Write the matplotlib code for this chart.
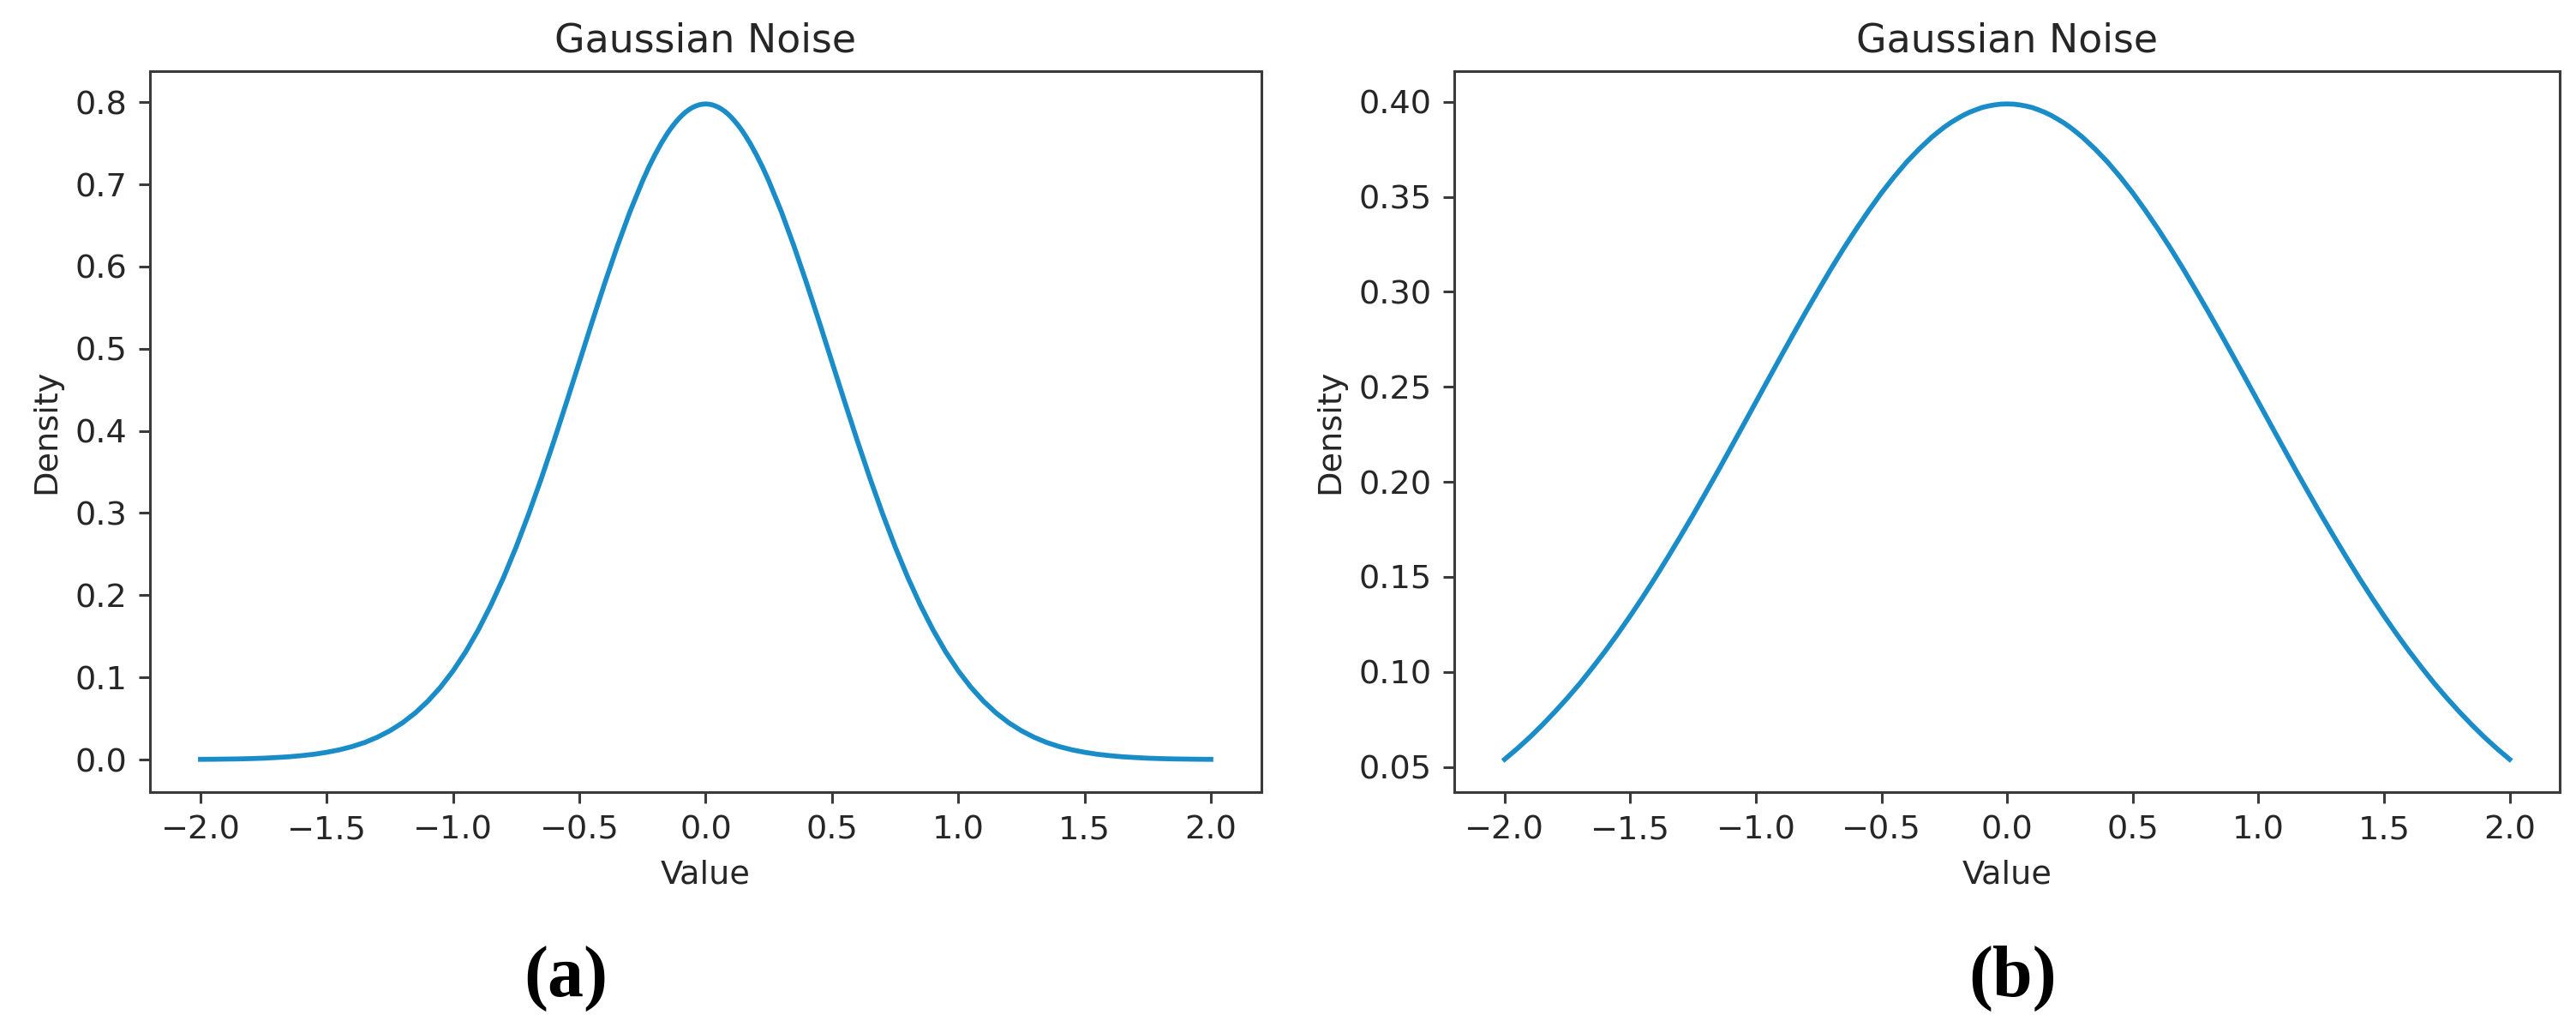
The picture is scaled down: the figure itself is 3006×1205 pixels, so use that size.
import numpy as np
import matplotlib
matplotlib.use("Agg")
import matplotlib.pyplot as plt
import matplotlib.ticker as mticker

# ---- data (denser sampling near the peaks) ----
x_left = [
    -2.0, -1.95, -1.9, -1.85, -1.8, -1.75, -1.7, -1.65, -1.6, -1.55,
    -1.5, -1.45, -1.4, -1.35, -1.3, -1.25, -1.2, -1.15, -1.1, -1.05,
    -1.0, -0.95, -0.9, -0.85, -0.8, -0.75, -0.7, -0.65, -0.6, -0.55,
    -0.5, -0.45, -0.4, -0.35, -0.3, -0.25, -0.225, -0.2, -0.175, -0.15,
    -0.1375, -0.125, -0.1125, -0.1, -0.0875, -0.075, -0.0625, -0.05, -0.0375, -0.025,
    -0.0125, 0.0, 0.0125,
    0.025, 0.0375, 0.05, 0.0625, 0.075, 0.0875, 0.1, 0.1125, 0.125, 0.1375,
    0.15, 0.175, 0.2, 0.225, 0.25, 0.3, 0.35, 0.4, 0.45, 0.5,
    0.55, 0.6, 0.65, 0.7, 0.75, 0.8, 0.85, 0.9, 0.95, 1.0,
    1.05, 1.1, 1.15, 1.2, 1.25, 1.3, 1.35, 1.4, 1.45, 1.5,
    1.55, 1.6, 1.65, 1.7, 1.75, 1.8, 1.85, 1.9, 1.95, 2.0,
]
density_left = [
    0.0003, 0.0004, 0.0006, 0.0008, 0.0012, 0.0017, 0.0025, 0.0034, 0.0048, 0.0065,
    0.0089, 0.0119, 0.0158, 0.0208, 0.0272, 0.0351, 0.0448, 0.0567, 0.0710, 0.0880,
    0.1080, 0.1312, 0.1579, 0.1881, 0.2218, 0.2590, 0.2995, 0.3427, 0.3884, 0.4357,
    0.4839, 0.5322, 0.5794, 0.6245, 0.6665, 0.7041, 0.7211, 0.7365, 0.7505, 0.7628,
    0.7683, 0.7733, 0.7779, 0.7821, 0.7858, 0.7890, 0.7917, 0.7939, 0.7956, 0.7969,
    0.7976, 0.7979, 0.7976,
    0.7969, 0.7956, 0.7939, 0.7917, 0.7890, 0.7858, 0.7821, 0.7779, 0.7733, 0.7683,
    0.7628, 0.7505, 0.7365, 0.7211, 0.7041, 0.6665, 0.6245, 0.5794, 0.5322, 0.4839,
    0.4357, 0.3884, 0.3427, 0.2995, 0.2590, 0.2218, 0.1881, 0.1579, 0.1312, 0.1080,
    0.0880, 0.0710, 0.0567, 0.0448, 0.0351, 0.0272, 0.0208, 0.0158, 0.0119, 0.0089,
    0.0065, 0.0048, 0.0034, 0.0025, 0.0017, 0.0012, 0.0008, 0.0006, 0.0004, 0.0003,
]

x_right = [
    -2.0, -1.95, -1.9, -1.85, -1.8, -1.75, -1.7, -1.65, -1.6, -1.55,
    -1.5, -1.45, -1.4, -1.35, -1.3, -1.25, -1.2, -1.15, -1.1, -1.05,
    -1.0, -0.95, -0.9, -0.85, -0.8, -0.75, -0.7, -0.65, -0.6, -0.55,
    -0.5, -0.45, -0.4, -0.35, -0.3, -0.275, -0.25, -0.225, -0.2, -0.175,
    -0.15, -0.125, -0.1, -0.075, -0.05, -0.025, 0.0,
    0.025, 0.05, 0.075, 0.1, 0.125, 0.15, 0.175, 0.2, 0.225, 0.25,
    0.275, 0.3, 0.35, 0.4, 0.45, 0.5, 0.55, 0.6, 0.65, 0.7,
    0.75, 0.8, 0.85, 0.9, 0.95, 1.0, 1.05, 1.1, 1.15, 1.2,
    1.25, 1.3, 1.35, 1.4, 1.45, 1.5, 1.55, 1.6, 1.65, 1.7,
    1.75, 1.8, 1.85, 1.9, 1.95, 2.0,
]
density_right = [
    0.0540, 0.0596, 0.0656, 0.0721, 0.0790, 0.0863, 0.0940, 0.1023, 0.1109, 0.1200,
    0.1295, 0.1394, 0.1497, 0.1604, 0.1714, 0.1826, 0.1942, 0.2059, 0.2179, 0.2299,
    0.2420, 0.2541, 0.2661, 0.2780, 0.2897, 0.3011, 0.3123, 0.3230, 0.3332, 0.3429,
    0.3521, 0.3605, 0.3683, 0.3752, 0.3814, 0.3841, 0.3867, 0.3890, 0.3910, 0.3929,
    0.3945, 0.3958, 0.3970, 0.3978, 0.3984, 0.3988, 0.3989,
    0.3988, 0.3984, 0.3978, 0.3970, 0.3958, 0.3945, 0.3929, 0.3910, 0.3890, 0.3867,
    0.3841, 0.3814, 0.3752, 0.3683, 0.3605, 0.3521, 0.3429, 0.3332, 0.3230, 0.3123,
    0.3011, 0.2897, 0.2780, 0.2661, 0.2541, 0.2420, 0.2299, 0.2179, 0.2059, 0.1942,
    0.1826, 0.1714, 0.1604, 0.1497, 0.1394, 0.1295, 0.1200, 0.1109, 0.1023, 0.0940,
    0.0863, 0.0790, 0.0721, 0.0656, 0.0596, 0.0540,
]

titles = ["Gaussian Noise", "Gaussian Noise"]
panel_labels = ["(a)", "(b)"]
xlabel = "Value"
ylabel = "Density"
xticks = [-2.0, -1.5, -1.0, -0.5, 0.0, 0.5, 1.0, 1.5, 2.0]
yticks_left = [0.0, 0.1, 0.2, 0.3, 0.4, 0.5, 0.6, 0.7, 0.8]
yticks_right = [0.05, 0.10, 0.15, 0.20, 0.25, 0.30, 0.35, 0.40]

line_color = "#1a8dc9"
text_color = "#262626"
spine_color = "#3a3a3a"

plt.rcParams["font.family"] = ["DejaVu Sans"]

dpi = 275
fig = plt.figure(figsize=(3007 / dpi, 1205 / dpi), dpi=dpi)

ax1 = fig.add_axes([0.0582, 0.2332, 0.4313, 0.6979])
ax2 = fig.add_axes([0.5644, 0.2332, 0.4290, 0.6979])

for ax, xs, ys, title in [(ax1, x_left, density_left, titles[0]),
                          (ax2, x_right, density_right, titles[1])]:
    ax.plot(xs, ys, color=line_color, linewidth=1.5)
    ax.set_title(title, fontsize=12, color=text_color)
    ax.set_xlabel(xlabel, fontsize=10, color=text_color)
    ax.set_ylabel(ylabel, fontsize=10, color=text_color)
    ax.set_xticks(xticks)
    ax.tick_params(labelsize=10, colors=spine_color, labelcolor=text_color)
    for sp in ax.spines.values():
        sp.set_color(spine_color)
        sp.set_linewidth(0.8)

ax1.set_yticks(yticks_left)
ax2.set_yticks(yticks_right)
ax2.yaxis.set_major_formatter(mticker.FormatStrFormatter("%.2f"))

fig.text(0.2195, 0.053, panel_labels[0], ha="center", va="center",
         fontsize=22, fontweight="bold", family=["Liberation Serif"], color="black")
fig.text(0.781, 0.053, panel_labels[1], ha="center", va="center",
         fontsize=22, fontweight="bold", family=["Liberation Serif"], color="black")

fig.savefig("out.png", dpi=dpi)
